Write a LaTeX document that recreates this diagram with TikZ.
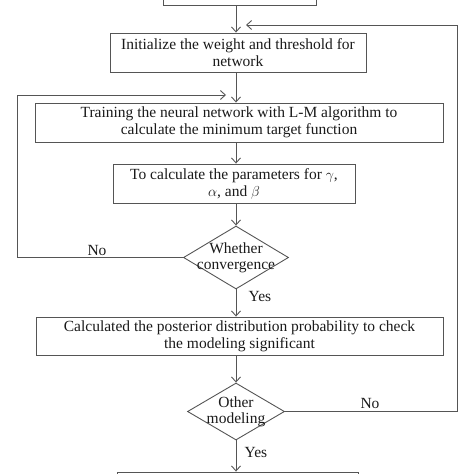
\documentclass[tikz,border=0pt]{standalone}
\usepackage{fontspec}
\setmainfont{Liberation Serif}
\usetikzlibrary{shapes.geometric,arrows.meta}
\definecolor{ln}{HTML}{555555}
\definecolor{tx}{HTML}{1A1A1A}
\tikzset{
  box/.style={draw=ln, line width=0.9pt, rectangle, inner sep=0pt, align=center, text=tx, font=\fontsize{15.5}{17}\selectfont},
  dia/.style={draw=ln, line width=0.9pt, diamond, inner sep=0pt},
  dtext/.style={align=center, text=tx, font=\fontsize{15.5}{16}\selectfont, inner sep=0pt},
  lab/.style={text=tx, font=\fontsize{15.5}{16}\selectfont, inner sep=0pt},
  conn/.style={draw=ln, line width=0.9pt},
  arr/.style={conn, -{Straight Barb[length=5pt,width=9pt,line width=0.9pt]}}
}
\begin{document}
\begin{tikzpicture}[x=1pt,y=1pt]
\useasboundingbox (0,0) rectangle (474,-474);
\clip (0,0) rectangle (474,-474);
\node[box, minimum width=153pt, minimum height=39pt] (b1) at (239.5,14.5) {};
\node[box, minimum width=256pt, minimum height=39pt] (b2) at (238,-52.5) {Initialize the weight and threshold for\\network};
\node[box, minimum width=408pt, minimum height=39pt] (b3) at (239,-122.5) {Training the neural network with L-M algorithm to\\calculate the minimum target function};
\node[box, minimum width=242pt, minimum height=39pt] (b4) at (234,-183.5) {To calculate the parameters for $\gamma$,\\$\alpha$, and $\beta$};
\node[dia, minimum width=105pt, minimum height=63pt] (d1) at (236,-257.5) {};
\node[dtext] (t1) at (d1.center) {Whether\\convergence};
\node[box, minimum width=407pt, minimum height=38pt] (b5) at (239.5,-336) {Calculated the posterior distribution probability to check\\the modeling significant};
\node[dia, minimum width=97pt, minimum height=57pt] (d2) at (236,-411.5) {};
\node[dtext] (t2) at (d2.center) {Other\\modeling};
\node[box, minimum width=241pt, minimum height=39pt] (b6) at (237.5,-491.5) {To test the modeling and output\\the result};
% loop coordinates
\coordinate (l1) at (17,-257.5);
\coordinate (l2) at (17,-95);
\coordinate (l3) at (226,-95);
\coordinate (r1) at (457,-411.5);
\coordinate (r2) at (457,-25);
\coordinate (r3) at (246,-25);
% connectors
\draw[arr] (236,0 |- b1.south) -- (236,0 |- b2.north);
\draw[arr] (236,0 |- b2.south) -- (236,0 |- b3.north);
\draw[arr] (236,0 |- b3.south) -- (236,0 |- b4.north);
\draw[arr] (236,0 |- b4.south) -- (d1.north);
\draw[arr] (d1.south) -- (236,0 |- b5.north);
\draw[arr] (236,0 |- b5.south) -- (d2.north);
\draw[arr] (d2.south) -- (236,0 |- b6.north);
\draw[conn] (d1.west) -- (l1) -- (l2);
\draw[arr] (l2) -- (l3);
\draw[conn] (d2.east) -- (r1) -- (r2);
\draw[arr] (r2) -- (r3);
% labels
\node[lab] (no1) at (97,-250) {No};
\node[lab] (yes1) at (260,-296) {Yes};
\node[lab] (no2) at (370,-403) {No};
\node[lab] (yes2) at (256,-452) {Yes};
\end{tikzpicture}
\end{document}
